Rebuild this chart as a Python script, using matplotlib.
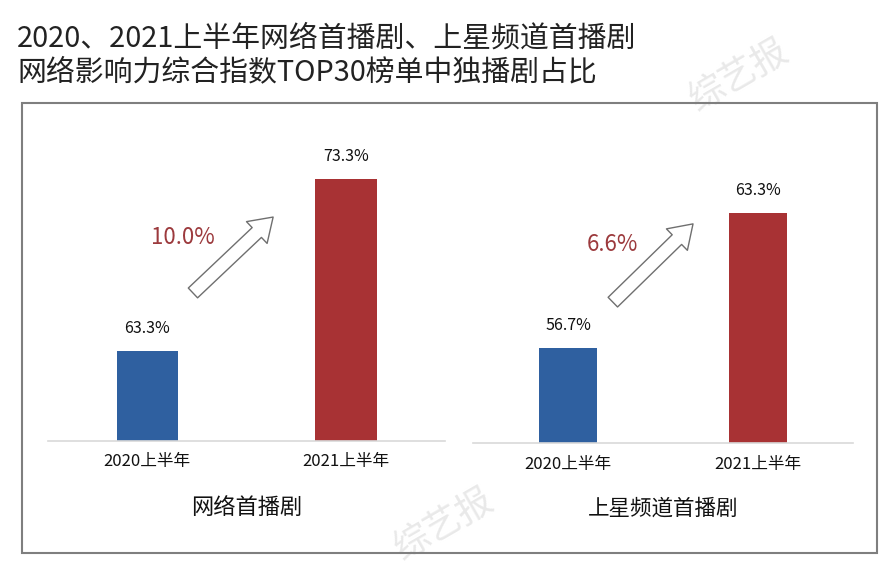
import matplotlib.pyplot as plt
from matplotlib.patches import Rectangle

plt.rcParams['font.family'] = ['Noto Sans CJK SC', 'DejaVu Sans']

title_lines = ['2020、2021上半年网络首播剧、上星频道首播剧',
               '网络影响力综合指数TOP30榜单中独播剧占比']
periods = ['2020上半年', '2021上半年']
groups = ['网络首播剧', '上星频道首播剧']
net_share = [63.3, 73.3]
tv_share = [56.7, 63.3]

colors = ['#2f60a0', '#a83234']
red_txt = '#9c3a3d'

fig = plt.figure(figsize=(8.96, 5.8), dpi=100)
fig.patch.set_facecolor('white')

for i, line in enumerate(title_lines):
    fig.text(0.019, [0.934, 0.876][i], line, fontsize=20.8, color='#222222',
             va='center', ha='left')

# frame around both panels
fig.patches.append(Rectangle((22 / 896, 1 - 553 / 580), 855 / 896, 450 / 580,
                             transform=fig.transFigure, fill=False,
                             ec='#7f7f7f', lw=1.5))

panels = [
    # axes rect, ylim, arrow tail, arrow tip, text pos, xlabel size
    ([0.0536, 0.2397, 0.4431, 0.5362], (58.07, 76.15),
     (0.365, 0.476), (0.567, 0.720), (0.340, 0.653), 16),
    ([0.5279, 0.2362, 0.4241, 0.5397], (52.05, 67.36),
     (0.368, 0.450), (0.579, 0.700), (0.366, 0.633), 15.5),
]

for (rect, ylim, tail, tip, tpos, lsize), vals, name in zip(panels, [net_share, tv_share], groups):
    ax = fig.add_axes(rect)
    x = list(range(len(periods)))
    bars = ax.bar(x, vals, width=0.31, color=colors, bottom=0)
    ax.set_xlim(-0.5, 1.5)
    ax.set_ylim(*ylim)
    for b, v in zip(bars, vals):
        ax.annotate(f'{v:.1f}%', (b.get_x() + b.get_width() / 2, v),
                    xytext=(0, 10), textcoords='offset points',
                    ha='center', va='bottom', fontsize=11.5, color='#111111',
                    fontweight='medium')
    for s in ['top', 'right', 'left']:
        ax.spines[s].set_visible(False)
    ax.spines['bottom'].set_color('#d9d9d9')
    ax.spines['bottom'].set_linewidth(1.2)
    ax.set_yticks([])
    ax.set_xticks(x)
    ax.set_xticklabels(periods, fontsize=12, color='#111111', fontweight='medium')
    ax.tick_params(axis='x', length=0, pad=9)
    ax.set_xlabel(name, fontsize=lsize, color='#111111', labelpad=18)
    ax.patch.set_alpha(0)

    ax.annotate('', xy=tip, xytext=tail, xycoords='axes fraction',
                arrowprops=dict(arrowstyle='simple,head_length=0.45,head_width=0.6,tail_width=0.27',
                                fc='white', ec='#6f6f6f', lw=1.0,
                                mutation_scale=36, shrinkA=0, shrinkB=0))
    ax.text(tpos[0], tpos[1], f'{vals[1] - vals[0]:.1f}%', transform=ax.transAxes,
            fontsize=16, color=red_txt, ha='center', va='center')

# watermarks
fig.text(0.825, 0.87, '综艺报', fontsize=26, color='#e9e9e9', rotation=30,
         ha='center', va='center', zorder=0)
fig.text(0.495, 0.095, '综艺报', fontsize=26, color='#e9e9e9', rotation=30,
         ha='center', va='center', zorder=0)

plt.savefig('out.png', dpi=100)
